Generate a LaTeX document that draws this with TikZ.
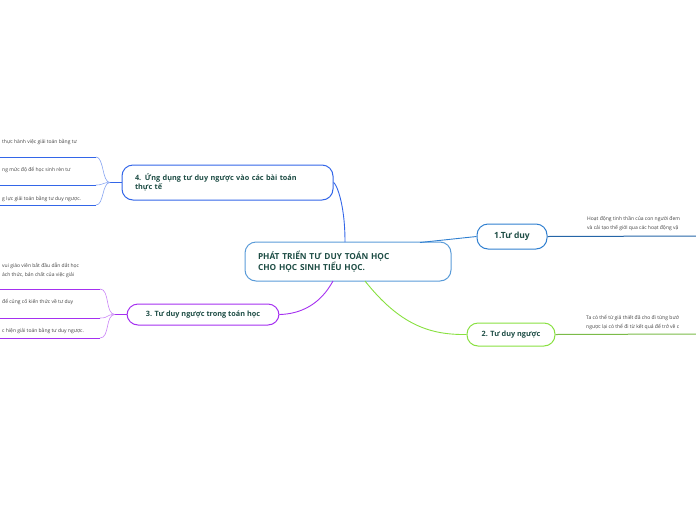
\documentclass[tikz,border=0pt]{standalone}
\usepackage{fontspec}
\setmainfont{Open Sans}
\definecolor{txt}{HTML}{1E4D45}
\definecolor{cb}{HTML}{5A9BD8}
\definecolor{b1}{HTML}{2F7FD0}
\definecolor{g2}{HTML}{88E040}
\definecolor{p3}{HTML}{A530F0}
\definecolor{b4}{HTML}{3366E8}
\begin{document}
\begin{tikzpicture}[x=1pt,y=-1pt,
 topic/.style={draw,line width=1pt,rounded corners=11pt,font=\bfseries\fontsize{7.3}{9.5}\selectfont,text=txt,align=left,inner sep=0pt},
 small/.style={font=\fontsize{5}{9}\selectfont,text=black!75,align=left,anchor=west,inner sep=0pt}]
\useasboundingbox (0,0) rectangle (696,520);
\node[topic,draw=cb,minimum width=206pt,minimum height=39pt,text width=180pt,font=\bfseries\fontsize{8.3}{11.5}\selectfont] (c) at (348,261.5) {PHÁT TRIỂN TƯ DUY TOÁN HỌC\\CHO HỌC SINH TIỂU HỌC.};
\node[topic,draw=b1,minimum width=70pt,minimum height=25pt,align=center,font=\bfseries\fontsize{8.5}{10}\selectfont] (n1) at (512,236.5) {1.Tư duy};
\node[topic,draw=g2,minimum width=88pt,minimum height=23pt,align=center] (n2) at (511,334.5) {2. Tư duy ngược};
\node[topic,draw=p3,minimum width=152pt,minimum height=21pt,align=center] (n3) at (203,314.5) {3. Tư duy ngược trong toán học};
\node[topic,draw=b4,minimum width=211pt,minimum height=35pt,text width=185pt] (n4) at (227.5,182.5) {4. Ứng dụng tư duy ngược vào các bài toán\\thực tế};
\coordinate (c1) at (420,242.5);
\draw[b1,line width=0.9pt] (c1) -- (n1.west);
\draw[g2,line width=0.9pt] (365,281) .. controls (400,325) and (430,335) .. (n2.west);
\draw[p3,line width=0.9pt] (333,281) .. controls (320,305) and (300,314) .. (n3.east);
\draw[b4,line width=0.9pt] (345,242) .. controls (345,200) and (335,182) .. (n4.east);
\coordinate (e1) at (696,236);
\draw[b1!80!black,line width=1pt] (n1.east) -- (e1);
\node[small] (t1) at (587,224) {Hoạt động tinh thần của con người đem\\và cải tạo thế giới qua các hoạt động vậ};
\coordinate (e2) at (696,334);
\draw[g2!80!black!90,line width=1pt] (n2.east) -- (e2);
\node[small] (t2) at (586,322.5) {Ta có thể từ giả thiết đã cho đi từng bướ\\ngược lại có thể đi từ kết quả để trở về c};
\coordinate (j3) at (115,314.5);
\draw[p3,line width=0.8pt] (n3.west) -- (j3);
\foreach \y/\n in {289/a,318/b,338/c}{
  \coordinate (p3\n) at (100,\y);
  \coordinate (q3\n) at (0,\y);
  \draw[p3!60,line width=0.6pt] (j3) .. controls (105,314.5) and (110,\y) .. (p3\n);
  \draw[p3,line width=1pt] (p3\n) -- (q3\n);
}
\node[small] (t3a) at (2,270) {vui giáo viên bắt đầu dẫn dắt học\\ách thức, bản chất của việc giải};
\node[small] (t3b) at (2,302) {để củng cố kiến thức về tư duy};
\node[small] (t3c) at (2,331) {c hiện giải toán bằng tư duy ngược.};
\coordinate (j4) at (110,182.5);
\draw[b4,line width=0.8pt] (n4.west) -- (j4);
\foreach \y/\n in {157/a,185/b,205/c}{
  \coordinate (p4\n) at (96,\y);
  \coordinate (q4\n) at (0,\y);
  \draw[b4!60,line width=0.6pt] (j4) .. controls (102,182.5) and (104,\y) .. (p4\n);
  \draw[b4,line width=1pt] (p4\n) -- (q4\n);
}
\node[small] (t4a) at (2,142) {thực hành việc giải toán bằng tư};
\node[small] (t4b) at (2,170) {ng mức độ để học sinh rèn tư};
\node[small] (t4c) at (2,199) {g lực giải toán bằng tư duy ngược.};
\end{tikzpicture}
\end{document}
